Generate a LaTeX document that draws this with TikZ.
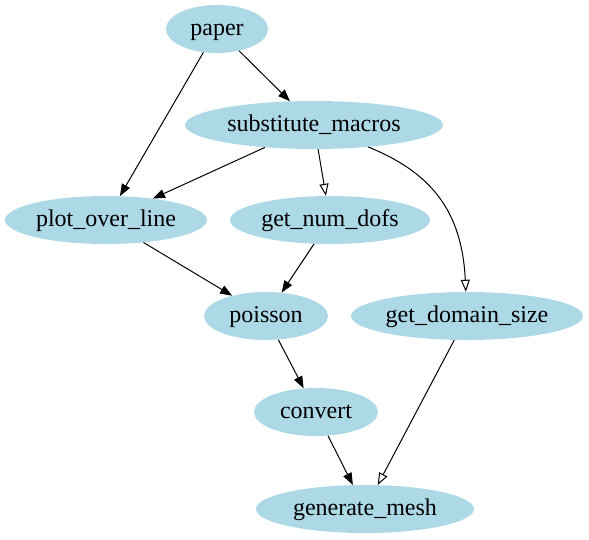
\documentclass[tikz,border=0pt]{standalone}
\usepackage{fontspec}
\setmainfont{Liberation Serif}
\usetikzlibrary{shapes.geometric,arrows.meta}
\definecolor{nodeblue}{RGB}{173,216,230}
\tikzset{
  gnode/.style={ellipse, fill=nodeblue, draw=none, inner sep=0pt, minimum height=48pt, text height=17pt, text depth=5pt, font=\fontsize{24pt}{28pt}\selectfont},
  fillarrow/.style={draw=black, line width=1pt, -{Triangle[length=12pt,width=9pt]}},
  openarrow/.style={draw=black, line width=1pt, -{Triangle[open,length=12pt,width=9pt,fill=white]}}
}
\begin{document}
\begin{tikzpicture}[x=1pt,y=-1pt]
\useasboundingbox (0,0) rectangle (589,539);
\node[gnode, minimum width=102pt] (paper) at (217,29) {paper};
\node[gnode, minimum width=258pt] (sm) at (314,125) {substitute\_macros};
\node[gnode, minimum width=202pt] (pol) at (106,220) {plot\_over\_line};
\node[gnode, minimum width=200pt] (gnd) at (330,220) {get\_num\_dofs};
\node[gnode, minimum width=124pt] (poisson) at (266,316) {poisson};
\node[gnode, minimum width=232pt] (gds) at (467,316) {get\_domain\_size};
\node[gnode, minimum width=124pt] (convert) at (316,412) {convert};
\node[gnode, minimum width=218pt] (gm) at (365,509) {generate\_mesh};
\draw[fillarrow] (paper) -- (pol);
\draw[fillarrow] (paper) -- (sm);
\draw[fillarrow] (sm) -- (pol);
\draw[openarrow] (sm) -- (gnd);
\draw[openarrow] (sm) .. controls (430,172) and (462,210) .. (gds);
\draw[fillarrow] (pol) -- (poisson);
\draw[fillarrow] (gnd) -- (poisson);
\draw[fillarrow] (poisson) -- (convert);
\draw[fillarrow] (convert) -- (gm);
\draw[openarrow] (gds) -- (gm);
\end{tikzpicture}
\end{document}
